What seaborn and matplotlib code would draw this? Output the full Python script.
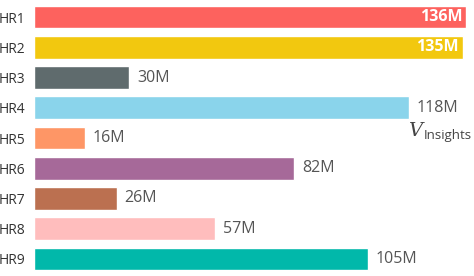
import matplotlib
matplotlib.use("Agg")
import matplotlib.pyplot as plt
import seaborn as sns
import pandas as pd

regions = ["HR1", "HR2", "HR3", "HR4", "HR5", "HR6", "HR7", "HR8", "HR9"]
values = [136, 135, 30, 118, 16, 82, 26, 57, 105]
labels = ["136M", "135M", "30M", "118M", "16M", "82M", "26M", "57M", "105M"]
colors = ["#FD625E", "#F2C80F", "#5F6B6D", "#8AD4EB", "#FE9666",
          "#A66999", "#BB7050", "#FFBDBD", "#01B8AA"]

sns.set_theme(style="white")
plt.rcParams["font.family"] = ["Open Sans", "DejaVu Sans"]

df = pd.DataFrame({"region": regions, "value": values})

fig = plt.figure(figsize=(4.74, 2.76), dpi=100)
ax = fig.add_axes([34 / 474, 2 / 276, 432 / 474, 272 / 276])
sns.barplot(data=df, x="value", y="region", hue="region", palette=colors,
            legend=False, width=0.75, saturation=1, ax=ax)

ax.set_xlim(0, 136)
ax.set_ylim(8.5, -0.5)
ax.set_xlabel("")
ax.set_ylabel("")
ax.set_xticks([])
ax.tick_params(axis="y", length=0, pad=6, labelsize=10, labelcolor="#333333")
for s in ax.spines.values():
    s.set_visible(False)

for i, (v, lab) in enumerate(zip(values, labels)):
    if v > 130:
        ax.text(v - 1.2, i, lab, ha="right", va="center", color="white",
                fontsize=11.5, fontweight="bold")
    else:
        ax.text(v + 2.5, i, lab, ha="left", va="center", color="#555555",
                fontsize=11.5)

# watermark logo text
fig.text(0.995, 0.51, "Insights", ha="right", va="center", fontsize=9.5,
         color="#444444")
fig.text(0.875, 0.525, "V", ha="center", va="center", fontsize=14,
         color="#444444", style="italic", family="DejaVu Serif")

fig.savefig("out.png", dpi=100)
